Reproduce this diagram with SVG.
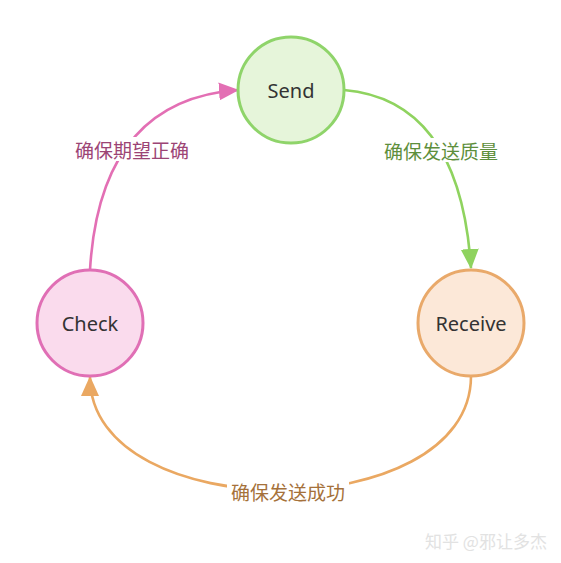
<svg xmlns="http://www.w3.org/2000/svg" width="561" height="563" viewBox="0 0 561 563">
<defs>
<style>
.node{stroke-width:3}
.nl{font-family:"Noto Sans","Open Sans","Liberation Sans",sans-serif;font-size:20px;fill:#333;text-anchor:middle;dominant-baseline:central}
.el{font-family:"Noto Sans CJK SC","Noto Sans",sans-serif;font-size:19px;text-anchor:middle;dominant-baseline:central}
.edge{fill:none;stroke-width:2.6}
</style>
<marker id="ag" markerUnits="userSpaceOnUse" markerWidth="20" markerHeight="18" refX="19" refY="9" orient="auto"><path d="M0,0 L20,9 L0,18 Z" fill="#8fd35f"/></marker>
<marker id="ao" markerUnits="userSpaceOnUse" markerWidth="20" markerHeight="18" refX="19" refY="9" orient="auto"><path d="M0,0 L20,9 L0,18 Z" fill="#eaa862"/></marker>
<marker id="ap" markerUnits="userSpaceOnUse" markerWidth="20" markerHeight="18" refX="19" refY="9" orient="auto"><path d="M0,0 L20,9 L0,18 Z" fill="#e36fb4"/></marker>
</defs>
<rect width="561" height="563" fill="#fff"/>
<g id="connectors">
<path class="edge" d="M344,90 Q460,100 471,268" stroke="#8fd35f" marker-end="url(#ag)"/>
<path class="edge" d="M471,376 C471,528 90,528 90,377" stroke="#eaa862" marker-end="url(#ao)"/>
<path class="edge" d="M90,270 Q100,100 238,90" stroke="#e36fb4" marker-end="url(#ap)"/>
<rect x="380" y="138" width="122" height="24" fill="#fff"/>
<text class="el" x="441" y="150" fill="#5e8f3c">确保发送质量</text>
<rect x="227" y="479" width="122" height="24" fill="#fff"/>
<text class="el" x="288" y="491" fill="#a5713a">确保发送成功</text>
<rect x="71" y="137" width="122" height="24" fill="#fff"/>
<text class="el" x="132" y="149" fill="#9c4475">确保期望正确</text>
</g>
<g id="send">
<circle class="node" cx="291" cy="90" r="53" fill="#e6f5da" stroke="#8fd46a"/>
<text class="nl" x="291" y="90">Send</text>
</g>
<g id="receive">
<circle class="node" cx="471" cy="323" r="53" fill="#fce8d8" stroke="#e9a96a"/>
<text class="nl" x="471" y="323">Receive</text>
</g>
<g id="check">
<circle class="node" cx="90" cy="323" r="53" fill="#fadbed" stroke="#e06fb5"/>
<text class="nl" x="90" y="323">Check</text>
</g>
<text x="486" y="540" font-family="Noto Sans CJK SC,sans-serif" font-size="17" fill="#e2e2e2" text-anchor="middle" dominant-baseline="central">知乎 @邪让多杰</text>
</svg>
